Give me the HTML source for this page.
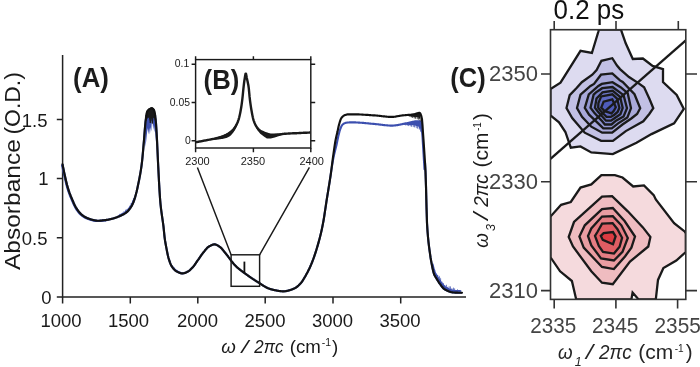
<!DOCTYPE html>
<html><head><meta charset="utf-8"><title>Figure</title>
<style>
html,body{margin:0;padding:0;background:#fff;}
svg{display:block;}
text{font-family:"Liberation Sans",sans-serif;}
.b{font-weight:bold;}
.i{font-style:italic;}
</style></head><body>
<svg width="700" height="367" viewBox="0 0 700 367">
<rect width="700" height="367" fill="#fff"/>

<!-- ============ Panel C contours ============ -->
<defs><clipPath id="cc"><rect x="550.5" y="29.7" width="135.29999999999995" height="269.7"/></clipPath></defs>
<g clip-path="url(#cc)">
<path d="M550.5,89.1 L560.5,82.7 L580.5,50.8 L591.9,53.0 L598.4,31.5 L598.8,29.7 L621.2,29.7 L621.4,31.0 L625.7,43.3 L632.8,59.0 L642.9,58.5 L652.6,65.9 L663.0,69.1 L663.0,82.0 L676.7,95.0 L683.8,108.9 L674.1,123.4 L651.5,134.1 L636.5,142.7 L612.8,154.1 L591.3,152.4 L580.5,146.4 L570.8,147.7 L565.4,132.0 L559.0,122.3 L550.5,115.4Z" fill="#dddbf0" stroke="#1a1a1a" stroke-width="2.3" stroke-linejoin="miter"/>
<path d="M566.5,108.0 L569.7,95.2 L576.6,88.0 L581.8,82.2 L592.3,74.7 L596.6,70.0 L601.4,60.8 L612.3,58.2 L617.0,65.5 L620.0,69.1 L629.0,77.0 L638.0,82.9 L644.1,87.2 L649.5,99.0 L653.3,108.2 L649.3,114.0 L643.3,121.3 L625.8,131.1 L612.9,140.9 L601.1,140.9 L584.7,132.7 L572.2,118.0Z" fill="#c2c0e4" stroke="#1a1a1a" stroke-width="2.3" stroke-linejoin="miter"/>
<path d="M577.0,108.0 L580.5,94.7 L590.5,86.0 L594.0,83.9 L601.0,74.7 L612.3,73.4 L620.0,80.4 L622.7,82.0 L634.5,94.2 L640.2,108.2 L637.1,114.0 L631.3,118.5 L622.5,124.5 L612.2,132.7 L602.2,132.7 L591.3,126.7 L582.0,116.9Z" fill="#a9a9da" stroke="#1a1a1a" stroke-width="2.3" stroke-linejoin="miter"/>
<path d="M584.8,107.8 L588.8,94.3 L598.4,86.0 L601.8,83.9 L612.5,82.2 L620.6,87.2 L627.7,93.2 L631.0,108.2 L627.4,117.5 L618.2,123.4 L611.8,128.4 L603.3,128.4 L600.0,125.1 L589.1,114.7Z" fill="#9296d2" stroke="#1a1a1a" stroke-width="2.3" stroke-linejoin="miter"/>
<path d="M590.5,107.8 L593.6,94.7 L596.0,92.4 L602.2,88.2 L612.5,87.0 L623.6,95.1 L627.0,108.2 L623.6,116.4 L616.0,120.7 L611.5,124.5 L604.9,124.5 L602.2,121.3 L594.5,113.1Z" fill="#7e86cc" stroke="#1a1a1a" stroke-width="2.3" stroke-linejoin="miter"/>
<path d="M594.9,107.8 L596.5,98.5 L602.5,92.4 L612.7,90.8 L620.1,96.8 L622.7,108.0 L620.4,114.2 L614.9,118.0 L611.0,120.7 L606.0,120.7 L597.8,111.5Z" fill="#6d77c6" stroke="#1a1a1a" stroke-width="2.3" stroke-linejoin="miter"/>
<path d="M598.2,107.6 L598.4,103.0 L601.2,96.4 L612.4,94.3 L617.1,98.6 L619.4,107.8 L617.6,112.0 L614.4,114.7 L610.8,116.9 L606.5,116.9 L601.1,111.5Z" fill="#5f6ac0" stroke="#1a1a1a" stroke-width="2.3" stroke-linejoin="miter"/>
<path d="M601.2,107.6 L603.6,101.7 L612.3,99.4 L615.8,107.3 L613.8,110.9 L611.5,113.4 L604.3,110.9Z" fill="#4f5cba" stroke="#1a1a1a" stroke-width="2.3" stroke-linejoin="miter"/>
<path d="M550.5,216.6 L561.1,204.8 L570.8,202.0 L580.5,187.6 L591.3,184.4 L601.4,175.1 L614.9,175.1 L622.5,177.5 L633.2,186.5 L644.0,185.4 L653.7,195.1 L655.8,199.4 L674.1,223.1 L684.9,231.7 L685.8,233.6 L685.8,252.0 L676.3,260.5 L663.4,268.0 L658.0,279.9 L655.8,299.4 L638.6,299.4 L632.6,292.6 L631.4,299.4 L576.2,299.4 L571.9,281.0 L560.1,271.3 L550.5,257.3Z" fill="#f5dadd" stroke="#1a1a1a" stroke-width="2.3" stroke-linejoin="miter"/>
<path d="M568.7,237.0 L574.0,222.0 L602.0,196.6 L612.1,196.2 L627.8,211.3 L642.9,227.4 L650.4,237.0 L648.3,246.5 L630.0,261.6 L612.8,284.2 L602.0,282.7 L591.3,271.3 L573.0,246.5Z" fill="#efbcc0" stroke="#1a1a1a" stroke-width="2.3" stroke-linejoin="miter"/>
<path d="M579.4,236.5 L584.8,225.3 L602.0,209.1 L612.8,208.0 L624.6,221.0 L635.0,236.5 L631.4,247.6 L625.0,256.5 L613.9,269.1 L602.0,267.0 L583.7,247.6Z" fill="#ea9da2" stroke="#1a1a1a" stroke-width="2.3" stroke-linejoin="miter"/>
<path d="M588.0,236.0 L591.3,228.5 L602.0,216.6 L612.8,216.2 L621.4,225.3 L627.8,238.0 L622.5,251.9 L613.9,260.5 L601.0,258.4 L591.3,245.4Z" fill="#e57d83" stroke="#1a1a1a" stroke-width="2.3" stroke-linejoin="miter"/>
<path d="M595.0,235.8 L597.7,231.5 L602.1,223.6 L612.6,223.1 L617.3,229.0 L622.1,237.8 L619.6,246.8 L614.0,253.6 L603.0,251.9 L598.8,245.9Z" fill="#e05d63" stroke="#1a1a1a" stroke-width="2.3" stroke-linejoin="miter"/>
<path d="M600.8,235.8 L603.6,233.2 L613.0,232.1 L615.6,236.4 L613.0,244.2 L602.8,239.9Z" fill="#dc3b41" stroke="#1a1a1a" stroke-width="2.3" stroke-linejoin="miter"/>

<path d="M550.5,158.9 L685.8,40.3" stroke="#1a1a1a" stroke-width="2.3" fill="none"/>
</g>
<g stroke="#333" stroke-width="1.6" fill="none">
<rect x="550.5" y="29.7" width="135.29999999999995" height="269.7"/>
<path d="M554.2,29.7 V21 M616,29.7 V21 M678.3,29.7 V21"/>
<path d="M554.2,299.4 V308.4 M615.9,299.4 V308.4 M677.6,299.4 V308.4"/>
<path d="M541,74 H550.5 M541,181.8 H550.5 M541,290.6 H550.5"/>
<path d="M685.8,74 H697 M685.8,181.8 H697 M685.8,290.6 H697"/>
</g>
<g fill="#444" font-size="22">
<text x="538" y="80.5" text-anchor="end" textLength="49" lengthAdjust="spacingAndGlyphs">2350</text>
<text x="538" y="189" text-anchor="end" textLength="49" lengthAdjust="spacingAndGlyphs">2330</text>
<text x="538" y="297.5" text-anchor="end" textLength="49" lengthAdjust="spacingAndGlyphs">2310</text>
<text x="530.3" y="333" textLength="46" lengthAdjust="spacingAndGlyphs">2335</text>
<text x="592" y="333" textLength="46.3" lengthAdjust="spacingAndGlyphs">2345</text>
<text x="654.5" y="333" textLength="46.3" lengthAdjust="spacingAndGlyphs">2355</text>
</g>
<text x="553.6" y="19.4" font-size="27.5" fill="#111" textLength="70.6" lengthAdjust="spacingAndGlyphs">0.2 ps</text>
<text x="450.3" y="87.2" font-size="28" class="b" fill="#1c1c1c" textLength="35.4" lengthAdjust="spacingAndGlyphs">(C)</text>
<g transform="translate(558.1,358.7)" font-size="20.6" fill="#262626">
<text x="0" y="0" class="i" textLength="14.6" lengthAdjust="spacingAndGlyphs">ω</text>
<text x="16.6" y="7.3" class="i" font-size="12.5">1</text>
<text x="27.9" y="0" class="i" textLength="7" lengthAdjust="spacingAndGlyphs">/</text>
<text x="40.9" y="0" class="i" textLength="32.6" lengthAdjust="spacingAndGlyphs">2πc</text>
<text x="80.2" y="0" textLength="35" lengthAdjust="spacingAndGlyphs">(cm</text>
<text x="116.6" y="-6.8" font-size="11.5" textLength="9" lengthAdjust="spacingAndGlyphs">-1</text>
<text x="127.6" y="0">)</text>
</g>
<g transform="translate(487.5,247.7) rotate(-90)" font-size="20.6" fill="#1a1a1a">
<text x="0" y="0" class="i" textLength="14.6" lengthAdjust="spacingAndGlyphs">ω</text>
<text x="16.6" y="7.3" class="i" font-size="12.5">3</text>
<text x="27.9" y="0" class="i" textLength="7" lengthAdjust="spacingAndGlyphs">/</text>
<text x="40.9" y="0" class="i" textLength="32.6" lengthAdjust="spacingAndGlyphs">2πc</text>
<text x="80.2" y="0" textLength="35" lengthAdjust="spacingAndGlyphs">(cm</text>
<text x="116.6" y="-6.8" font-size="11.5" textLength="9" lengthAdjust="spacingAndGlyphs">-1</text>
<text x="127.6" y="0">)</text>
</g>

<!-- ============ Panel A ============ -->
<g stroke="#222" stroke-width="1.5" fill="none">
<path d="M62.6,55 V297.7 M62,297 H466"/>
<path d="M56.8,119.5 H62.6 M56.8,178.5 H62.6 M56.8,237.7 H62.6 M56.8,297 H62.6"/>
<path d="M62.6,297 V303.6 M130.3,297 V303.6 M197.8,297 V303.6 M265.2,297 V303.6 M333,297 V303.6 M400.7,297 V303.6"/>
</g>
<g fill="#1a1a1a" font-size="18.5">
<text x="47.5" y="127" text-anchor="end">1.5</text>
<text x="48.5" y="185.3" text-anchor="end">1</text>
<text x="47.5" y="244.5" text-anchor="end">0.5</text>
<text x="51.5" y="304" text-anchor="end">0</text>
<text x="61" y="327" text-anchor="middle">1000</text>
<text x="128.5" y="327" text-anchor="middle">1500</text>
<text x="197.5" y="327" text-anchor="middle">2000</text>
<text x="265" y="327" text-anchor="middle">2500</text>
<text x="332.5" y="327" text-anchor="middle">3000</text>
<text x="400" y="327" text-anchor="middle">3500</text>
</g>
<g transform="translate(19.5,270) rotate(-90)" font-size="22.3" fill="#1a1a1a">
<text x="0" y="0" textLength="130.8" lengthAdjust="spacingAndGlyphs">Absorbance</text>
<text x="135.4" y="0" textLength="62.5" lengthAdjust="spacingAndGlyphs">(O.D.)</text>
</g>
<g font-size="18.7" fill="#1a1a1a">
<text x="221.2" y="352.5" class="i">ω</text>
<text x="241.4" y="352.5" class="i" textLength="6.8" lengthAdjust="spacingAndGlyphs">/</text>
<text x="254.3" y="352.5" class="i" textLength="29.1" lengthAdjust="spacingAndGlyphs">2πc</text>
<text x="289.7" y="352.5">(cm</text>
<text x="321.8" y="345.8" font-size="11" textLength="9.3" lengthAdjust="spacingAndGlyphs">-1</text>
<text x="332" y="352.5">)</text>
</g>
<text x="73.1" y="87.3" font-size="28" class="b" fill="#1c1c1c" textLength="35.8" lengthAdjust="spacingAndGlyphs">(A)</text>

<!-- blue curve -->
<path d="M145.3,115.0 L156.2,115.0 L156.2,146.0 L155.4,133.0 L154.6,131.0 L153.9,125.0 L153.2,130.0 L152.5,121.0 L151.8,121.0 L151.3,131.5 L150.6,127.0 L149.9,134.5 L149.1,128.0 L148.4,134.5 L147.6,128.0 L146.9,134.0 L146.2,141.0 L145.3,147.0Z" fill="#3c4faf"/>
<path d="M433.4,263.0 L434.1,266.4 L434.1,266.3 L434.8,269.3 L434.8,268.8 L435.5,271.1 L435.5,271.6 L436.2,273.1 L436.2,273.0 L436.9,274.1 L436.9,274.3 L437.6,275.4 L437.6,274.5 L438.3,275.6 L438.3,276.6 L439.0,277.7 L439.0,275.6 L439.7,276.7 L439.7,278.8 L440.4,279.9 L440.4,277.4 L441.1,278.4 L441.1,280.9 L441.8,281.9 L441.8,281.2 L442.5,282.1 L442.5,282.9 L443.2,283.8 L443.2,282.7 L443.9,283.6 L443.9,284.7 L444.6,285.4 L444.6,284.7 L445.3,285.3 L445.3,286.1 L446.0,286.6 L446.0,284.6 L446.7,285.1 L446.7,287.0 L447.4,287.4 L447.4,286.7 L448.1,287.1 L448.1,287.8 L448.8,288.1 L448.8,286.1 L449.5,286.4 L449.5,288.4 L450.2,288.7 L450.2,286.2 L450.9,286.5 L450.9,288.9 L451.6,289.2 L451.6,288.0 L452.3,288.2 L452.3,289.4 L453.0,289.6 L453.0,287.5 L453.7,287.7 L453.7,289.7 L454.4,289.8 L454.4,288.3 L455.1,288.4 L455.1,289.9 L455.8,289.9 L455.8,289.9 L456.5,289.9 L456.5,289.9 L457.2,290.0 L457.2,289.2 L457.9,289.2 L457.9,290.0 L458.6,290.0 L458.6,290.1 L459.3,290.1 L459.3,290.0 L460.0,290.0 L460.0,290.3 L460.7,290.3 L460.7,290.0 L461.4,290.0 L460.4,292.7 L459.9,292.7 L459.4,292.7 L458.9,292.7 L458.4,292.7 L457.9,292.7 L457.4,292.6 L456.9,292.6 L456.4,292.6 L455.9,292.6 L455.4,292.6 L454.9,292.6 L454.4,292.5 L453.9,292.5 L453.4,292.5 L452.9,292.5 L452.4,292.4 L451.9,292.3 L451.4,292.2 L450.9,292.0 L450.4,291.9 L449.9,291.7 L449.4,291.5 L448.9,291.3 L448.4,291.2 L447.9,291.0 L447.4,290.8 L446.9,290.5 L446.4,290.3 L445.9,290.0 L445.4,289.7 L444.9,289.4 L444.4,289.1 L443.9,288.7 L443.4,288.3 L442.9,287.8 L442.4,287.2 L441.9,286.6 L441.4,285.9 L440.9,285.2 L440.4,284.5 L439.9,283.9 L439.4,283.2 L438.9,282.4 L438.4,281.6 L437.9,280.8 L437.4,280.0 L436.9,279.2 L436.4,278.4 L435.9,277.6 L435.4,276.8 L434.9,276.0 L434.4,275.0 L433.9,273.7 L433.4,271.9 L432.9,269.8 L432.4,267.5Z" fill="#3c4faf"/>
<path d="M118.0,215.4 L118.7,215.1 L118.7,214.9 L119.4,214.5 L119.4,214.1 L120.1,213.8 L120.1,214.2 L120.8,213.9 L120.8,213.4 L121.5,213.1 L121.5,213.6 L122.2,213.2 L122.2,212.8 L122.9,212.4 L122.9,212.8 L123.6,212.4 L123.6,211.3 L124.3,210.9 L124.3,211.9 L125.0,211.4 L125.0,209.9 L125.7,209.4 L125.7,210.9 L126.4,210.2 L126.4,209.5 L127.1,208.8 L127.1,209.5 L127.8,208.7 L127.8,208.2 L128.5,207.3 L128.5,207.9 L129.2,206.9 L129.2,206.3 L129.9,205.3 L129.9,205.9 L130.6,204.7 L130.6,203.8 L131.3,202.4 L131.3,203.4 L132.0,201.9 L132.0,201.4 L132.7,199.7 L132.7,200.2 L133.4,198.2 L135.4,196.2 L134.9,197.9 L134.4,199.5 L133.9,201.0 L133.4,202.2 L132.9,203.4 L132.4,204.4 L131.9,205.4 L131.4,206.3 L130.9,207.2 L130.4,207.9 L129.9,208.6 L129.4,209.3 L128.9,209.9 L128.4,210.5 L127.9,211.0 L127.4,211.5 L126.9,212.0 L126.4,212.4 L125.9,212.8 L125.4,213.1 L124.9,213.5 L124.4,213.8 L123.9,214.1 L123.4,214.4 L122.9,214.6 L122.4,214.9 L121.9,215.1 L121.4,215.4 L120.9,215.6 L120.4,215.8 L119.9,216.0 L119.4,216.3Z" fill="#3c4faf"/>
<path d="M167.0,250.1 L167.7,253.5 L167.7,253.3 L168.4,256.2 L168.4,256.0 L169.1,258.3 L169.1,258.5 L169.8,260.6 L169.8,260.1 L170.5,261.9 L170.5,262.5 L171.2,263.9 L171.2,263.4 L171.9,264.6 L171.9,265.1 L172.6,266.1 L172.6,265.7 L173.3,266.6 L173.3,267.1 L174.0,267.9 L174.0,267.0 L174.7,267.7 L174.7,268.6 L175.4,269.2 L175.4,268.5 L176.1,268.9 L176.1,269.6 L176.8,270.0 L176.8,269.7 L177.5,270.1 L177.5,270.4 L178.2,270.8 L178.2,270.8 L178.9,271.1 L178.9,271.1 L179.6,271.4 L179.6,271.6 L180.3,271.9 L180.3,271.6 L181.0,271.8 L181.4,273.3 L180.9,273.2 L180.4,273.1 L179.9,273.0 L179.4,272.8 L178.9,272.6 L178.4,272.3 L177.9,272.1 L177.4,271.8 L176.9,271.5 L176.4,271.2 L175.9,270.9 L175.4,270.6 L174.9,270.2 L174.4,269.7 L173.9,269.2 L173.4,268.6 L172.9,268.0 L172.4,267.3 L171.9,266.5 L171.4,265.7 L170.9,264.8 L170.4,263.7 L169.9,262.4 L169.4,260.9 L168.9,259.3 L168.4,257.6 L167.9,255.6 L167.4,253.3Z" fill="#3c4faf"/>
<path d="M61.5,165.1 L62.2,168.6 L62.2,168.3 L62.9,171.7 L62.9,171.6 L63.6,174.7 L63.6,174.8 L64.3,178.0 L64.3,177.6 L65.0,180.6 L65.0,181.0 L65.7,183.8 L65.7,183.4 L66.4,185.9 L66.4,186.4 L67.1,188.6 L67.1,188.2 L67.8,190.3 L67.8,190.7 L68.5,192.6 L68.5,192.7 L69.2,194.5 L69.2,194.4 L69.9,196.1 L71.4,197.6 L70.9,196.4 L70.4,195.1 L69.9,193.8 L69.4,192.5 L68.9,191.1 L68.4,189.6 L67.9,188.0 L67.4,186.3 L66.9,184.4 L66.4,182.4 L65.9,180.2 L65.4,178.0 L64.9,175.8 L64.4,173.5 L63.9,171.2 L63.4,168.8 L62.9,166.3Z" fill="#3c4faf"/>
<path d="M400.0,124.6 L400.5,124.5 L401.0,124.4 L401.5,124.3 L402.0,124.2 L402.5,124.1 L403.0,123.9 L403.5,123.8 L404.0,123.7 L404.5,123.6 L405.0,123.5 L405.5,123.4 L406.0,123.3 L406.5,123.3 L407.0,123.2 L407.5,123.1 L408.0,123.0 L408.5,122.9 L409.0,122.7 L409.5,122.6 L410.0,122.5 L410.5,122.4 L411.0,122.3 L411.5,122.1 L412.0,122.0 L412.5,121.9 L413.0,121.8 L413.5,121.7 L414.0,121.6 L414.5,121.5 L415.0,121.4 L415.5,121.3 L416.0,121.3 L416.5,121.2 L417.0,121.2 L417.5,121.2 L418.0,121.2 L418.5,121.2 L419.0,121.3 L419.5,121.4 L420.0,121.4 L420.5,121.6 L421.0,122.7 L421.0,132.2 L420.3,131.2 L420.2,128.4 L419.6,128.6 L419.5,130.0 L418.8,129.2 L418.7,126.6 L418.1,126.7 L418.0,129.1 L417.3,128.3 L417.2,125.9 L416.6,126.1 L416.5,128.4 L415.8,127.6 L415.7,125.5 L415.1,125.7 L415.0,127.8 L414.3,127.1 L414.2,125.2 L413.6,125.3 L413.5,127.3 L412.8,126.7 L412.7,125.0 L412.1,125.1 L412.0,126.9 L411.3,126.4 L411.2,124.9 L410.6,125.0 L410.5,126.5 L409.8,126.1 L409.7,124.9 L409.1,124.9 L409.0,126.2 L408.3,125.8 L408.2,124.8 L407.6,124.9 L407.5,125.8 L406.8,125.6 L406.7,124.7 L406.1,124.8 L406.0,125.5 L405.3,125.2 L405.2,124.6 L404.6,124.7 L404.5,125.1 L403.8,125.0 L403.7,124.5 L403.1,124.6 L403.0,124.9 L402.3,124.8 L402.2,124.5 L401.6,124.5 L401.5,124.7 L400.8,124.6 L400.7,124.5 L400.1,124.5 L400.0,124.6 L399.3,124.6 L399.2,124.6 L398.6,124.6Z" fill="#3c4faf"/>
<path d="M62.5,164.3 L63.0,166.8 L63.5,169.3 L64.0,171.7 L64.5,174.0 L65.0,176.2 L65.5,178.5 L66.0,180.7 L66.5,182.8 L67.0,184.8 L67.5,186.6 L68.0,188.3 L68.5,189.9 L69.0,191.4 L69.5,192.8 L70.0,194.1 L70.5,195.4 L71.0,196.6 L71.5,197.8 L72.0,199.0 L72.5,200.2 L73.0,201.3 L73.5,202.5 L74.0,203.6 L74.5,204.7 L75.0,205.7 L75.5,206.7 L76.0,207.6 L76.5,208.4 L77.0,209.2 L77.5,209.9 L78.0,210.6 L78.5,211.3 L79.0,211.9 L79.5,212.5 L80.0,213.1 L80.5,213.6 L81.0,214.1 L81.5,214.5 L82.0,214.9 L82.5,215.3 L83.0,215.7 L83.5,216.0 L84.0,216.4 L84.5,216.7 L85.0,217.0 L85.5,217.3 L86.0,217.5 L86.5,217.8 L87.0,218.0 L87.5,218.2 L88.0,218.4 L88.5,218.5 L89.0,218.7 L89.5,218.9 L90.0,219.1 L90.5,219.2 L91.0,219.4 L91.5,219.6 L92.0,219.7 L92.5,219.8 L93.0,220.0 L93.5,220.1 L94.0,220.2 L94.5,220.3 L95.0,220.4 L95.5,220.5 L96.0,220.6 L96.5,220.6 L97.0,220.7 L97.5,220.7 L98.0,220.7 L98.5,220.7 L99.0,220.7 L99.5,220.7 L100.0,220.6 L100.5,220.6 L101.0,220.6 L101.5,220.5 L102.0,220.5 L102.5,220.4 L103.0,220.4 L103.5,220.3 L104.0,220.2 L104.5,220.2 L105.0,220.1 L105.5,220.1 L106.0,220.0 L106.5,219.9 L107.0,219.9 L107.5,219.8 L108.0,219.7 L108.5,219.6 L109.0,219.5 L109.5,219.4 L110.0,219.3 L110.5,219.2 L111.0,219.0 L111.5,218.9 L112.0,218.8 L112.5,218.7 L113.0,218.5 L113.5,218.4 L114.0,218.2 L114.5,218.1 L115.0,217.9 L115.5,217.8 L116.0,217.6 L116.5,217.4 L117.0,217.2 L117.5,217.0 L118.0,216.8 L118.5,216.6 L119.0,216.4 L119.5,216.2 L120.0,216.0 L120.5,215.8 L121.0,215.6 L121.5,215.3 L122.0,215.1 L122.5,214.8 L123.0,214.6 L123.5,214.3 L124.0,214.0 L124.5,213.7 L125.0,213.4 L125.5,213.1 L126.0,212.7 L126.5,212.3 L127.0,211.9 L127.5,211.4 L128.0,210.9 L128.5,210.4 L129.0,209.8 L129.5,209.2 L130.0,208.5 L130.5,207.8 L131.0,207.0 L131.5,206.2 L132.0,205.2 L132.5,204.2 L133.0,203.2 L133.5,202.0 L134.0,200.7 L134.5,199.2 L135.0,197.6 L135.5,195.8 L136.0,194.0 L136.5,192.1 L137.0,189.9 L137.5,187.7 L138.0,185.3 L138.5,182.9 L139.0,180.5 L139.5,177.9 L140.0,175.2 L140.5,172.4 L141.0,169.3 L141.5,165.8 L142.0,161.8 L142.5,157.1 L143.0,151.7 L143.5,145.9 L144.0,140.0 L144.5,133.7 L145.0,127.3 L145.5,122.0 L146.0,119.0 L146.5,119.0 L147.0,119.0 L147.5,119.0 L148.0,119.0 L148.5,119.0 L149.0,119.0 L149.5,119.0 L150.0,119.0 L150.5,119.0 L151.0,119.0 L151.5,119.0 L152.0,119.0 L152.5,119.0 L153.0,119.0 L153.5,119.0 L154.0,119.0 L154.5,119.0 L155.0,119.0 L155.5,119.0 L156.0,123.4 L156.5,131.2 L157.0,140.0 L157.5,151.0 L158.0,162.0 L158.5,171.9 L159.0,181.6 L159.5,190.4 L160.0,198.1 L160.5,204.0 L161.0,208.6 L161.5,212.4 L162.0,216.0 L162.5,219.4 L163.0,222.8 L163.5,226.7 L164.0,231.6 L164.5,236.6 L165.0,240.4 L165.5,243.3 L166.0,246.0 L166.5,248.6 L167.0,251.3 L167.5,253.8 L168.0,256.1 L168.5,258.0 L169.0,259.7 L169.5,261.2 L170.0,262.6 L170.5,263.9 L171.0,265.0 L171.5,265.9 L172.0,266.7 L172.5,267.4 L173.0,268.1 L173.5,268.7 L174.0,269.3 L174.5,269.8 L175.0,270.3 L175.5,270.7 L176.0,271.0 L176.5,271.3 L177.0,271.6 L177.5,271.9 L178.0,272.1 L178.5,272.4 L179.0,272.6 L179.5,272.8 L180.0,273.0 L180.5,273.1 L181.0,273.3 L181.5,273.3 L182.0,273.4 L182.5,273.4 L183.0,273.4 L183.5,273.3 L184.0,273.2 L184.5,273.0 L185.0,272.9 L185.5,272.7 L186.0,272.5 L186.5,272.2 L187.0,272.0 L187.5,271.7 L188.0,271.5 L188.5,271.2 L189.0,270.9 L189.5,270.5 L190.0,270.1 L190.5,269.6 L191.0,269.1 L191.5,268.6 L192.0,268.1 L192.5,267.5 L193.0,267.0 L193.5,266.4 L194.0,265.8 L194.5,265.1 L195.0,264.4 L195.5,263.7 L196.0,262.9 L196.5,262.2 L197.0,261.4 L197.5,260.7 L198.0,260.0 L198.5,259.3 L199.0,258.6 L199.5,257.8 L200.0,257.1 L200.5,256.4 L201.0,255.7 L201.5,254.9 L202.0,254.2 L202.5,253.6 L203.0,252.9 L203.5,252.3 L204.0,251.7 L204.5,251.1 L205.0,250.4 L205.5,249.8 L206.0,249.2 L206.5,248.7 L207.0,248.1 L207.5,247.6 L208.0,247.2 L208.5,246.8 L209.0,246.5 L209.5,246.2 L210.0,245.9 L210.5,245.7 L211.0,245.4 L211.5,245.2 L212.0,245.0 L212.5,244.8 L213.0,244.6 L213.5,244.5 L214.0,244.4 L214.5,244.4 L215.0,244.4 L215.5,244.5 L216.0,244.7 L216.5,244.8 L217.0,245.1 L217.5,245.4 L218.0,245.7 L218.5,246.0 L219.0,246.3 L219.5,246.7 L220.0,247.0 L220.5,247.4 L221.0,247.8 L221.5,248.3 L222.0,248.9 L222.5,249.5 L223.0,250.1 L223.5,250.7 L224.0,251.4 L224.5,252.0 L225.0,252.6 L225.5,253.2 L226.0,253.8 L226.5,254.5 L227.0,255.1 L227.5,255.7 L228.0,256.4 L228.5,257.1 L229.0,257.7 L229.5,258.4 L230.0,259.1 L230.5,259.7 L231.0,260.4 L231.5,261.1 L232.0,261.7 L232.5,262.3 L233.0,263.0 L233.5,263.6 L234.0,264.2 L234.5,264.7 L235.0,265.3 L235.5,265.8 L236.0,266.3 L236.5,266.8 L237.0,267.2 L237.5,267.7 L238.0,268.1 L238.5,268.5 L239.0,268.9 L239.5,269.3 L240.0,269.7 L240.5,270.1 L241.0,270.5 L241.5,270.9 L242.0,271.2 L242.5,271.6 L243.0,272.0 L243.5,272.3 L244.0,272.7 L244.5,273.1 L245.0,273.4 L245.5,273.8 L246.0,274.2 L246.5,274.5 L247.0,274.9 L247.5,275.2 L248.0,275.6 L248.5,276.0 L249.0,276.3 L249.5,276.7 L250.0,277.0 L250.5,277.4 L251.0,277.7 L251.5,278.0 L252.0,278.4 L252.5,278.7 L253.0,279.1 L253.5,279.4 L254.0,279.7 L254.5,280.0 L255.0,280.4 L255.5,280.7 L256.0,281.0 L256.5,281.3 L257.0,281.6 L257.5,281.9 L258.0,282.2 L258.5,282.6 L259.0,282.9 L259.5,283.2 L260.0,283.5 L260.5,283.8 L261.0,284.2 L261.5,284.5 L262.0,284.8 L262.5,285.1 L263.0,285.5 L263.5,285.8 L264.0,286.1 L264.5,286.4 L265.0,286.7 L265.5,287.0 L266.0,287.2 L266.5,287.5 L267.0,287.8 L267.5,288.0 L268.0,288.2 L268.5,288.4 L269.0,288.6 L269.5,288.8 L270.0,289.0 L270.5,289.1 L271.0,289.2 L271.5,289.4 L272.0,289.5 L272.5,289.6 L273.0,289.7 L273.5,289.9 L274.0,290.0 L274.5,290.1 L275.0,290.2 L275.5,290.3 L276.0,290.4 L276.5,290.5 L277.0,290.6 L277.5,290.7 L278.0,290.8 L278.5,290.9 L279.0,291.0 L279.5,291.0 L280.0,291.1 L280.5,291.1 L281.0,291.2 L281.5,291.2 L282.0,291.3 L282.5,291.3 L283.0,291.3 L283.5,291.3 L284.0,291.3 L284.5,291.3 L285.0,291.2 L285.5,291.2 L286.0,291.1 L286.5,291.0 L287.0,290.9 L287.5,290.8 L288.0,290.7 L288.5,290.5 L289.0,290.4 L289.5,290.2 L290.0,290.1 L290.5,289.9 L291.0,289.7 L291.5,289.6 L292.0,289.4 L292.5,289.2 L293.0,289.0 L293.5,288.8 L294.0,288.6 L294.5,288.4 L295.0,288.1 L295.5,287.8 L296.0,287.5 L296.5,287.2 L297.0,286.8 L297.5,286.4 L298.0,285.9 L298.5,285.5 L299.0,285.0 L299.5,284.5 L300.0,284.0 L300.5,283.4 L301.0,282.9 L301.5,282.3 L302.0,281.6 L302.5,280.9 L303.0,280.1 L303.5,279.3 L304.0,278.5 L304.5,277.6 L305.0,276.8 L305.5,275.9 L306.0,275.0 L306.5,274.1 L307.0,273.2 L307.5,272.3 L308.0,271.3 L308.5,270.3 L309.0,269.3 L309.5,268.2 L310.0,267.2 L310.5,266.0 L311.0,264.9 L311.5,263.7 L312.0,262.5 L312.5,261.2 L313.0,259.9 L313.5,258.5 L314.0,257.1 L314.5,255.7 L315.0,254.2 L315.5,252.6 L316.0,251.1 L316.5,249.5 L317.0,247.8 L317.5,246.1 L318.0,244.4 L318.5,242.6 L319.0,240.8 L319.5,238.9 L320.0,237.0 L320.5,235.0 L321.0,232.9 L321.5,230.7 L322.0,228.4 L322.5,226.0 L323.0,223.4 L323.5,220.7 L324.0,217.7 L324.5,214.5 L325.0,211.2 L325.5,207.9 L326.0,204.5 L326.5,201.2 L327.0,198.0 L327.5,194.9 L328.0,191.8 L328.5,188.8 L329.0,185.7 L329.5,182.6 L330.0,179.4 L330.5,176.1 L331.0,172.6 L331.5,169.2 L332.0,166.0 L332.5,163.0 L333.0,160.1 L333.5,157.5 L334.0,155.1 L334.5,153.0 L335.0,151.0 L335.5,149.1 L336.0,147.1 L336.5,145.0 L337.0,142.6 L337.5,140.1 L338.0,137.7 L338.5,135.4 L339.0,133.4 L339.5,131.5 L340.0,129.9 L340.5,128.5 L341.0,127.2 L341.5,126.1 L342.0,125.3 L342.5,124.7 L343.0,124.3 L343.5,123.9 L344.0,123.5 L344.5,123.3 L345.0,123.1 L345.5,122.9 L346.0,122.8 L346.5,122.7 L347.0,122.6 L347.5,122.5 L348.0,122.5 L348.5,122.5 L349.0,122.5 L349.5,122.4 L350.0,122.4 L350.5,122.4 L351.0,122.4 L351.5,122.4 L352.0,122.4 L352.5,122.4 L353.0,122.4 L353.5,122.4 L354.0,122.4 L354.5,122.4 L355.0,122.4 L355.5,122.4 L356.0,122.5 L356.5,122.5 L357.0,122.5 L357.5,122.5 L358.0,122.5 L358.5,122.6 L359.0,122.6 L359.5,122.6 L360.0,122.7 L360.5,122.7 L361.0,122.7 L361.5,122.8 L362.0,122.8 L362.5,122.9 L363.0,122.9 L363.5,122.9 L364.0,123.0 L364.5,123.0 L365.0,123.1 L365.5,123.1 L366.0,123.2 L366.5,123.2 L367.0,123.3 L367.5,123.3 L368.0,123.4 L368.5,123.4 L369.0,123.5 L369.5,123.5 L370.0,123.6 L370.5,123.6 L371.0,123.7 L371.5,123.7 L372.0,123.8 L372.5,123.8 L373.0,123.9 L373.5,123.9 L374.0,123.9 L374.5,124.0 L375.0,124.0 L375.5,124.1 L376.0,124.1 L376.5,124.2 L377.0,124.2 L377.5,124.3 L378.0,124.3 L378.5,124.4 L379.0,124.5 L379.5,124.5 L380.0,124.6 L380.5,124.6 L381.0,124.7 L381.5,124.8 L382.0,124.8 L382.5,124.9 L383.0,125.0 L383.5,125.0 L384.0,125.1 L384.5,125.1 L385.0,125.2 L385.5,125.2 L386.0,125.3 L386.5,125.3 L387.0,125.4 L387.5,125.4 L388.0,125.5 L388.5,125.5 L389.0,125.5 L389.5,125.5 L390.0,125.6 L390.5,125.6 L391.0,125.6 L391.5,125.6 L392.0,125.6 L392.5,125.6 L393.0,125.6 L393.5,125.5 L394.0,125.5 L394.5,125.5 L395.0,125.4 L395.5,125.4 L396.0,125.3 L396.5,125.2 L397.0,125.1 L397.5,125.1 L398.0,125.0 L398.5,124.9 L399.0,124.8 L399.5,124.7 L400.0,124.6 L400.5,124.5 L401.0,124.4 L401.5,124.3 L402.0,124.2 L402.5,124.1 L403.0,123.9 L403.5,123.8 L404.0,123.7 L404.5,123.6 L405.0,123.5 L405.5,123.4 L406.0,123.3 L406.5,123.3 L407.0,123.2 L407.5,123.1 L408.0,123.0 L408.5,122.9 L409.0,122.7 L409.5,122.6 L410.0,122.5 L410.5,122.4 L411.0,122.3 L411.5,122.1 L412.0,122.0 L412.5,121.9 L413.0,121.8 L413.5,121.7 L414.0,121.6 L414.5,121.5 L415.0,121.4 L415.5,121.3 L416.0,121.3 L416.5,121.2 L417.0,121.2 L417.5,121.2 L418.0,121.2 L418.5,121.2 L419.0,121.3 L419.5,121.4 L420.0,121.4 L420.5,121.6 L421.0,122.7 L421.5,126.2 L422.0,131.0 L422.5,136.8 L423.0,145.0 L423.5,153.1 L424.0,161.1 L424.5,169.1 L425.0,162.5 L425.5,171.8 L426.0,186.5 L426.5,206.8 L427.0,223.1 L427.5,231.0 L428.0,237.1 L428.5,242.1 L429.0,246.3 L429.5,250.1 L430.0,253.7 L430.5,257.2 L431.0,260.2 L431.5,262.9 L432.0,265.5 L432.5,268.0 L433.0,270.3 L433.5,272.3 L434.0,274.0 L434.5,275.2 L435.0,276.1 L435.5,277.0 L436.0,277.7 L436.5,278.5 L437.0,279.4 L437.5,280.2 L438.0,281.0 L438.5,281.8 L439.0,282.6 L439.5,283.3 L440.0,284.0 L440.5,284.7 L441.0,285.4 L441.5,286.1 L442.0,286.7 L442.5,287.3 L443.0,287.9 L443.5,288.4 L444.0,288.8 L444.5,289.1 L445.0,289.5 L445.5,289.8 L446.0,290.1 L446.5,290.3 L447.0,290.6 L447.5,290.8 L448.0,291.0 L448.5,291.2 L449.0,291.4 L449.5,291.6 L450.0,291.7 L450.5,291.9 L451.0,292.1 L451.5,292.2 L452.0,292.3 L452.5,292.4 L453.0,292.5 L453.5,292.5 L454.0,292.5 L454.5,292.5 L455.0,292.6 L455.5,292.6 L456.0,292.6 L456.5,292.6 L457.0,292.6 L457.5,292.6 L458.0,292.7 L458.5,292.7 L459.0,292.7 L459.5,292.7 L460.0,292.7 L460.5,292.7 L461.0,292.7 L461.5,292.7 L462.0,292.7" fill="none" stroke="#3c4faf" stroke-width="2.1" stroke-linejoin="round"/>
<path d="M62.0,164.7 L62.5,167.2 L63.0,169.7 L63.5,172.1 L64.0,174.4 L64.5,176.6 L65.0,178.9 L65.5,181.1 L66.0,183.2 L66.5,185.2 L67.0,187.0 L67.5,188.7 L68.0,190.3 L68.5,191.8 L69.0,193.2 L69.5,194.5 L70.0,195.8 L70.5,197.0 L71.0,198.2 L71.5,199.4 L72.0,200.6 L72.5,201.7 L73.0,202.9 L73.5,204.0 L74.0,205.1 L74.5,206.1 L75.0,207.1 L75.5,208.0 L76.0,208.8 L76.5,209.6 L77.0,210.3 L77.5,211.0 L78.0,211.7 L78.5,212.3 L79.0,212.9 L79.5,213.5 L80.0,214.0 L80.5,214.5 L81.0,214.9 L81.5,215.3 L82.0,215.7 L82.5,216.1 L83.0,216.4 L83.5,216.8 L84.0,217.1 L84.5,217.4 L85.0,217.7 L85.5,217.9 L86.0,218.2 L86.5,218.4 L87.0,218.6 L87.5,218.8 L88.0,218.9 L88.5,219.1 L89.0,219.3 L89.5,219.5 L90.0,219.6 L90.5,219.8 L91.0,220.0 L91.5,220.1 L92.0,220.2 L92.5,220.4 L93.0,220.5 L93.5,220.6 L94.0,220.7 L94.5,220.8 L95.0,220.9 L95.5,221.0 L96.0,221.0 L96.5,221.1 L97.0,221.1 L97.5,221.1 L98.0,221.1 L98.5,221.1 L99.0,221.1 L99.5,221.0 L100.0,221.0 L100.5,221.0 L101.0,220.9 L101.5,220.9 L102.0,220.8 L102.5,220.8 L103.0,220.7 L103.5,220.6 L104.0,220.6 L104.5,220.5 L105.0,220.5 L105.5,220.4 L106.0,220.3 L106.5,220.3 L107.0,220.2" fill="none" stroke="#3c4faf" stroke-width="2" stroke-linejoin="round"/>
<!-- black curve -->
<path d="M145.6,121.0 L146.5,113.0 L147.5,110.0 L149.0,108.8 L151.8,107.6 L153.5,108.5 L154.6,112.0 L155.5,121.0 L154.8,118.0 L153.8,117.0 L152.9,118.0 L152.3,123.5 L151.7,118.0 L150.9,118.0 L150.3,123.0 L149.6,118.0 L148.5,117.3 L147.0,118.0 L146.2,120.0Z" fill="#1a1a1a" stroke="#1a1a1a" stroke-width="1"/>
<path d="M405.0,115.2 L405.5,115.1 L406.0,115.1 L406.5,115.0 L407.0,115.0 L407.5,115.0 L408.0,114.9 L408.5,114.9 L409.0,114.8 L409.5,114.8 L410.0,114.8 L410.5,114.7 L411.0,114.7 L411.5,114.6 L412.0,114.6 L412.5,114.5 L413.0,114.4 L413.5,114.4 L414.0,114.3 L414.5,114.2 L415.0,114.0 L415.5,113.9 L416.0,113.7 L416.5,113.5 L417.0,113.4 L417.5,113.2 L418.0,113.1 L418.5,113.0 L419.0,112.9 L419.5,112.9 L420.0,113.0 L420.5,113.8 L420.5,121.8 L419.8,121.0 L419.7,118.6 L419.1,118.7 L419.0,120.0 L418.3,119.3 L418.2,117.2 L417.6,117.3 L417.5,119.4 L416.8,118.8 L416.7,116.9 L416.1,117.1 L416.0,119.0 L415.3,118.5 L415.2,116.9 L414.6,117.0 L414.5,118.6 L413.8,118.2 L413.7,116.8 L413.1,116.9 L413.0,118.1 L412.3,117.7 L412.2,116.6 L411.6,116.7 L411.5,117.4 L410.8,117.2 L410.7,116.3 L410.1,116.4 L410.0,116.8 L409.3,116.6 L409.2,116.0 L408.6,116.0 L408.5,116.2 L407.8,116.1 L407.7,115.7 L407.1,115.7 L407.0,115.7 L406.3,115.6 L406.2,115.4 L405.6,115.4 L405.5,115.2 L404.8,115.2 L404.7,115.2 L404.1,115.2Z" fill="#1a1a1a"/>
<path d="M62.5,164.3 L63.0,166.8 L63.5,169.3 L64.0,171.7 L64.5,174.0 L65.0,176.2 L65.5,178.5 L66.0,180.7 L66.5,182.8 L67.0,184.8 L67.5,186.6 L68.0,188.3 L68.5,189.9 L69.0,191.4 L69.5,192.8 L70.0,194.1 L70.5,195.4 L71.0,196.6 L71.5,197.8 L72.0,199.0 L72.5,200.2 L73.0,201.3 L73.5,202.5 L74.0,203.6 L74.5,204.7 L75.0,205.7 L75.5,206.7 L76.0,207.6 L76.5,208.4 L77.0,209.2 L77.5,209.9 L78.0,210.6 L78.5,211.3 L79.0,211.9 L79.5,212.5 L80.0,213.1 L80.5,213.6 L81.0,214.1 L81.5,214.5 L82.0,214.9 L82.5,215.3 L83.0,215.7 L83.5,216.0 L84.0,216.4 L84.5,216.7 L85.0,217.0 L85.5,217.3 L86.0,217.5 L86.5,217.8 L87.0,218.0 L87.5,218.2 L88.0,218.4 L88.5,218.5 L89.0,218.7 L89.5,218.9 L90.0,219.1 L90.5,219.2 L91.0,219.4 L91.5,219.6 L92.0,219.7 L92.5,219.8 L93.0,220.0 L93.5,220.1 L94.0,220.2 L94.5,220.3 L95.0,220.4 L95.5,220.5 L96.0,220.6 L96.5,220.6 L97.0,220.7 L97.5,220.7 L98.0,220.7 L98.5,220.7 L99.0,220.7 L99.5,220.7 L100.0,220.6 L100.5,220.6 L101.0,220.6 L101.5,220.5 L102.0,220.5 L102.5,220.4 L103.0,220.4 L103.5,220.3 L104.0,220.2 L104.5,220.2 L105.0,220.1 L105.5,220.1 L106.0,220.0 L106.5,219.9 L107.0,219.9 L107.5,219.8 L108.0,219.7 L108.5,219.6 L109.0,219.5 L109.5,219.4 L110.0,219.3 L110.5,219.2 L111.0,219.0 L111.5,218.9 L112.0,218.8 L112.5,218.7 L113.0,218.5 L113.5,218.4 L114.0,218.2 L114.5,218.1 L115.0,217.9 L115.5,217.8 L116.0,217.6 L116.5,217.4 L117.0,217.2 L117.5,217.0 L118.0,216.8 L118.5,216.6 L119.0,216.4 L119.5,216.2 L120.0,216.0 L120.5,215.8 L121.0,215.6 L121.5,215.3 L122.0,215.1 L122.5,214.8 L123.0,214.6 L123.5,214.3 L124.0,214.0 L124.5,213.7 L125.0,213.4 L125.5,213.1 L126.0,212.7 L126.5,212.3 L127.0,211.9 L127.5,211.4 L128.0,210.9 L128.5,210.4 L129.0,209.8 L129.5,209.2 L130.0,208.5 L130.5,207.8 L131.0,207.0 L131.5,206.2 L132.0,205.2 L132.5,204.2 L133.0,203.2 L133.5,202.0 L134.0,200.7 L134.5,199.2 L135.0,197.6 L135.5,195.8 L136.0,194.0 L136.5,192.1 L137.0,189.9 L137.5,187.7 L138.0,185.3 L138.5,182.9 L139.0,180.5 L139.5,177.9 L140.0,175.2 L140.5,172.4 L141.0,169.3 L141.5,165.8 L142.0,161.8 L142.5,157.1 L143.0,151.7 L143.5,145.9 L144.0,140.0 L144.5,133.7 L145.0,127.3 L145.5,122.0 L146.0,117.7 L146.5,114.1 L147.0,112.0 L147.5,111.1 L148.0,110.4 L148.5,109.9 L149.0,109.5 L149.5,109.2 L150.0,108.9 L150.5,108.6 L151.0,108.4 L151.5,108.3 L152.0,108.3 L152.5,108.5 L153.0,108.8 L153.5,109.4 L154.0,110.0 L154.5,111.5 L155.0,114.3 L155.5,118.0 L156.0,123.4 L156.5,131.2 L157.0,140.0 L157.5,151.0 L158.0,162.0 L158.5,171.9 L159.0,181.6 L159.5,190.4 L160.0,198.1 L160.5,204.0 L161.0,208.6 L161.5,212.4 L162.0,216.0 L162.5,219.4 L163.0,222.8 L163.5,226.7 L164.0,231.6 L164.5,236.6 L165.0,240.4 L165.5,243.3 L166.0,246.0 L166.5,248.6 L167.0,251.3 L167.5,253.8 L168.0,256.1 L168.5,258.0 L169.0,259.7 L169.5,261.2 L170.0,262.6 L170.5,263.9 L171.0,265.0 L171.5,265.9 L172.0,266.7 L172.5,267.4 L173.0,268.1 L173.5,268.7 L174.0,269.3 L174.5,269.8 L175.0,270.3 L175.5,270.7 L176.0,271.0 L176.5,271.3 L177.0,271.6 L177.5,271.9 L178.0,272.1 L178.5,272.4 L179.0,272.6 L179.5,272.8 L180.0,273.0 L180.5,273.1 L181.0,273.3 L181.5,273.3 L182.0,273.4 L182.5,273.4 L183.0,273.4 L183.5,273.3 L184.0,273.2 L184.5,273.0 L185.0,272.9 L185.5,272.7 L186.0,272.5 L186.5,272.2 L187.0,272.0 L187.5,271.7 L188.0,271.5 L188.5,271.2 L189.0,270.9 L189.5,270.5 L190.0,270.1 L190.5,269.6 L191.0,269.1 L191.5,268.6 L192.0,268.1 L192.5,267.5 L193.0,267.0 L193.5,266.4 L194.0,265.8 L194.5,265.1 L195.0,264.4 L195.5,263.7 L196.0,262.9 L196.5,262.2 L197.0,261.4 L197.5,260.7 L198.0,260.0 L198.5,259.3 L199.0,258.6 L199.5,257.8 L200.0,257.1 L200.5,256.4 L201.0,255.7 L201.5,254.9 L202.0,254.2 L202.5,253.6 L203.0,252.9 L203.5,252.3 L204.0,251.7 L204.5,251.1 L205.0,250.4 L205.5,249.8 L206.0,249.2 L206.5,248.7 L207.0,248.1 L207.5,247.6 L208.0,247.2 L208.5,246.8 L209.0,246.5 L209.5,246.2 L210.0,245.9 L210.5,245.7 L211.0,245.4 L211.5,245.2 L212.0,245.0 L212.5,244.8 L213.0,244.6 L213.5,244.5 L214.0,244.4 L214.5,244.4 L215.0,244.4 L215.5,244.5 L216.0,244.7 L216.5,244.8 L217.0,245.1 L217.5,245.4 L218.0,245.7 L218.5,246.0 L219.0,246.3 L219.5,246.7 L220.0,247.0 L220.5,247.4 L221.0,247.8 L221.5,248.3 L222.0,248.9 L222.5,249.5 L223.0,250.1 L223.5,250.7 L224.0,251.4 L224.5,252.0 L225.0,252.6 L225.5,253.2 L226.0,253.8 L226.5,254.5 L227.0,255.1 L227.5,255.7 L228.0,256.4 L228.5,257.1 L229.0,257.7 L229.5,258.4 L230.0,259.1 L230.5,259.7 L231.0,260.4 L231.5,261.1 L232.0,261.7 L232.5,262.3 L233.0,263.0 L233.5,263.6 L234.0,264.2 L234.5,264.7 L235.0,265.3 L235.5,265.8 L236.0,266.3 L236.5,266.8 L237.0,267.2 L237.5,267.7 L238.0,268.1 L238.5,268.5 L239.0,268.9 L239.5,269.3 L240.0,269.7 L240.5,270.1 L241.0,270.5 L241.5,270.9 L242.0,271.2 L242.5,271.6 L243.0,272.0 L243.5,272.3 L244.0,272.7 L244.5,273.1 L245.0,273.4 L245.5,273.8 L246.0,274.2 L246.5,274.5 L247.0,274.9 L247.5,275.2 L248.0,275.6 L248.5,276.0 L249.0,276.3 L249.5,276.7 L250.0,277.0 L250.5,277.4 L251.0,277.7 L251.5,278.0 L252.0,278.4 L252.5,278.7 L253.0,279.1 L253.5,279.4 L254.0,279.7 L254.5,280.0 L255.0,280.4 L255.5,280.7 L256.0,281.0 L256.5,281.3 L257.0,281.6 L257.5,281.9 L258.0,282.2 L258.5,282.6 L259.0,282.9 L259.5,283.2 L260.0,283.5 L260.5,283.8 L261.0,284.2 L261.5,284.5 L262.0,284.8 L262.5,285.1 L263.0,285.5 L263.5,285.8 L264.0,286.1 L264.5,286.4 L265.0,286.7 L265.5,287.0 L266.0,287.2 L266.5,287.5 L267.0,287.8 L267.5,288.0 L268.0,288.2 L268.5,288.4 L269.0,288.6 L269.5,288.8 L270.0,289.0 L270.5,289.1 L271.0,289.2 L271.5,289.4 L272.0,289.5 L272.5,289.6 L273.0,289.7 L273.5,289.9 L274.0,290.0 L274.5,290.1 L275.0,290.2 L275.5,290.3 L276.0,290.4 L276.5,290.5 L277.0,290.6 L277.5,290.7 L278.0,290.8 L278.5,290.9 L279.0,291.0 L279.5,291.0 L280.0,291.1 L280.5,291.1 L281.0,291.2 L281.5,291.2 L282.0,291.3 L282.5,291.3 L283.0,291.3 L283.5,291.3 L284.0,291.3 L284.5,291.3 L285.0,291.2 L285.5,291.2 L286.0,291.1 L286.5,291.0 L287.0,290.9 L287.5,290.8 L288.0,290.7 L288.5,290.5 L289.0,290.4 L289.5,290.2 L290.0,290.1 L290.5,289.9 L291.0,289.7 L291.5,289.6 L292.0,289.4 L292.5,289.2 L293.0,289.0 L293.5,288.8 L294.0,288.6 L294.5,288.4 L295.0,288.1 L295.5,287.8 L296.0,287.5 L296.5,287.2 L297.0,286.8 L297.5,286.4 L298.0,285.9 L298.5,285.5 L299.0,285.0 L299.5,284.5 L300.0,284.0 L300.5,283.4 L301.0,282.9 L301.5,282.3 L302.0,281.6 L302.5,280.9 L303.0,280.1 L303.5,279.3 L304.0,278.5 L304.5,277.6 L305.0,276.8 L305.5,275.9 L306.0,275.0 L306.5,274.1 L307.0,273.2 L307.5,272.3 L308.0,271.3 L308.5,270.3 L309.0,269.3 L309.5,268.2 L310.0,267.2 L310.5,266.0 L311.0,264.9 L311.5,263.7 L312.0,262.5 L312.5,261.2 L313.0,259.9 L313.5,258.5 L314.0,257.1 L314.5,255.7 L315.0,254.2 L315.5,252.6 L316.0,251.1 L316.5,249.5 L317.0,247.8 L317.5,246.1 L318.0,244.4 L318.5,242.6 L319.0,240.8 L319.5,238.9 L320.0,237.0 L320.5,235.0 L321.0,232.9 L321.5,230.7 L322.0,228.4 L322.5,226.0 L323.0,223.4 L323.5,220.7 L324.0,217.7 L324.5,214.5 L325.0,211.2 L325.5,207.9 L326.0,204.5 L326.5,201.2 L327.0,198.0 L327.5,194.9 L328.0,191.8 L328.5,188.8 L329.0,185.7 L329.5,182.6 L330.0,179.4 L330.5,176.1 L331.0,172.6 L331.5,168.8 L332.0,164.9 L332.5,161.0 L333.0,157.2 L333.5,153.6 L334.0,150.1 L334.5,146.7 L335.0,143.4 L335.5,140.5 L336.0,138.0 L336.5,135.8 L337.0,133.7 L337.5,131.6 L338.0,129.2 L338.5,126.8 L339.0,124.7 L339.5,123.0 L340.0,121.3 L340.5,119.9 L341.0,118.7 L341.5,117.9 L342.0,117.2 L342.5,116.7 L343.0,116.2 L343.5,115.9 L344.0,115.5 L344.5,115.3 L345.0,115.1 L345.5,114.9 L346.0,114.7 L346.5,114.6 L347.0,114.5 L347.5,114.4 L348.0,114.4 L348.5,114.4 L349.0,114.4 L349.5,114.3 L350.0,114.3 L350.5,114.3 L351.0,114.3 L351.5,114.3 L352.0,114.3 L352.5,114.3 L353.0,114.3 L353.5,114.3 L354.0,114.3 L354.5,114.3 L355.0,114.3 L355.5,114.3 L356.0,114.3 L356.5,114.3 L357.0,114.4 L357.5,114.4 L358.0,114.4 L358.5,114.4 L359.0,114.4 L359.5,114.5 L360.0,114.5 L360.5,114.5 L361.0,114.5 L361.5,114.5 L362.0,114.6 L362.5,114.6 L363.0,114.6 L363.5,114.7 L364.0,114.7 L364.5,114.7 L365.0,114.7 L365.5,114.8 L366.0,114.8 L366.5,114.8 L367.0,114.9 L367.5,114.9 L368.0,114.9 L368.5,115.0 L369.0,115.0 L369.5,115.1 L370.0,115.1 L370.5,115.1 L371.0,115.2 L371.5,115.2 L372.0,115.2 L372.5,115.3 L373.0,115.3 L373.5,115.3 L374.0,115.4 L374.5,115.4 L375.0,115.4 L375.5,115.5 L376.0,115.5 L376.5,115.5 L377.0,115.6 L377.5,115.6 L378.0,115.7 L378.5,115.7 L379.0,115.8 L379.5,115.9 L380.0,115.9 L380.5,116.0 L381.0,116.0 L381.5,116.1 L382.0,116.2 L382.5,116.2 L383.0,116.3 L383.5,116.3 L384.0,116.4 L384.5,116.4 L385.0,116.5 L385.5,116.5 L386.0,116.6 L386.5,116.6 L387.0,116.7 L387.5,116.7 L388.0,116.8 L388.5,116.8 L389.0,116.8 L389.5,116.8 L390.0,116.9 L390.5,116.9 L391.0,116.9 L391.5,116.9 L392.0,116.9 L392.5,116.9 L393.0,116.9 L393.5,116.8 L394.0,116.8 L394.5,116.7 L395.0,116.7 L395.5,116.6 L396.0,116.5 L396.5,116.4 L397.0,116.3 L397.5,116.2 L398.0,116.1 L398.5,116.0 L399.0,116.0 L399.5,115.9 L400.0,115.8 L400.5,115.7 L401.0,115.6 L401.5,115.5 L402.0,115.5 L402.5,115.4 L403.0,115.3 L403.5,115.3 L404.0,115.2 L404.5,115.2 L405.0,115.2 L405.5,115.1 L406.0,115.1 L406.5,115.0 L407.0,115.0 L407.5,115.0 L408.0,114.9 L408.5,114.9 L409.0,114.8 L409.5,114.8 L410.0,114.8 L410.5,114.7 L411.0,114.7 L411.5,114.6 L412.0,114.6 L412.5,114.5 L413.0,114.4 L413.5,114.4 L414.0,114.3 L414.5,114.2 L415.0,114.0 L415.5,113.9 L416.0,113.7 L416.5,113.5 L417.0,113.4 L417.5,113.2 L418.0,113.1 L418.5,113.0 L419.0,112.9 L419.5,112.9 L420.0,113.0 L420.5,113.8 L421.0,115.1 L421.5,116.9 L422.0,119.3 L422.5,125.4 L423.0,133.0 L423.5,139.9 L424.0,147.3 L424.5,154.8 L425.0,162.5 L425.5,171.8 L426.0,186.5 L426.5,206.8 L427.0,223.1 L427.5,231.0 L428.0,237.1 L428.5,242.1 L429.0,246.3 L429.5,250.1 L430.0,253.7 L430.5,257.2 L431.0,260.2 L431.5,262.9 L432.0,265.5 L432.5,268.0 L433.0,270.3 L433.5,272.3 L434.0,274.0 L434.5,275.2 L435.0,276.1 L435.5,277.0 L436.0,277.7 L436.5,278.5 L437.0,279.4 L437.5,280.2 L438.0,281.0 L438.5,281.8 L439.0,282.6 L439.5,283.3 L440.0,284.0 L440.5,284.7 L441.0,285.4 L441.5,286.1 L442.0,286.7 L442.5,287.3 L443.0,287.9 L443.5,288.4 L444.0,288.8 L444.5,289.1 L445.0,289.5 L445.5,289.8 L446.0,290.1 L446.5,290.3 L447.0,290.6 L447.5,290.8 L448.0,291.0 L448.5,291.2 L449.0,291.4 L449.5,291.6 L450.0,291.7 L450.5,291.9 L451.0,292.1 L451.5,292.2 L452.0,292.3 L452.5,292.4 L453.0,292.5 L453.5,292.5 L454.0,292.5 L454.5,292.5 L455.0,292.6 L455.5,292.6 L456.0,292.6 L456.5,292.6 L457.0,292.6 L457.5,292.6 L458.0,292.7 L458.5,292.7 L459.0,292.7 L459.5,292.7 L460.0,292.7 L460.5,292.7 L461.0,292.7 L461.5,292.7 L462.0,292.7" fill="none" stroke="#111" stroke-width="2.15" stroke-linejoin="round" stroke-linecap="round"/>
<path d="M244.4,273 V261.6" stroke="#111" stroke-width="1.8" fill="none"/>

<!-- zoom box and connectors -->
<g stroke="#1a1a1a" stroke-width="1.45" fill="none">
<rect x="231.1" y="254.8" width="28.5" height="31.5"/>
<path d="M197.4,167.4 L231.1,254.8 M309.4,167.4 L259.6,254.8"/>
</g>

<!-- ============ Inset B ============ -->
<g stroke="#1a1a1a" stroke-width="1.45" fill="none">
<rect x="195.6" y="59.6" width="115.2" height="88.4"/>
<path d="M195.6,59.6 V56.3 M253.4,59.6 V56.3 M310.8,59.6 V56.3"/>
<path d="M195.6,148 V152.2 M253.4,148 V152.2 M310.8,148 V152.2"/>
<path d="M191.6,64.2 H195.6 M191.6,102.5 H195.6 M191.6,140.7 H195.6"/>
<path d="M310.8,64.2 H315.2 M310.8,102.5 H315.2 M310.8,140.7 H315.2"/>
</g>
<path d="M208.0,139.9 L208.5,139.7 L209.0,139.6 L209.5,139.4 L210.0,139.3 L210.5,139.1 L211.0,139.0 L211.5,138.8 L212.0,138.7 L212.5,138.5 L213.0,138.4 L213.5,138.2 L214.0,138.0 L214.5,137.9 L215.0,137.7 L215.5,137.6 L216.0,137.4 L216.5,137.2 L217.0,137.1 L217.5,136.9 L218.0,136.8 L218.5,136.6 L219.0,136.4 L219.5,136.3 L220.0,136.1 L220.5,135.9 L221.0,135.7 L221.5,135.5 L222.0,135.4 L222.5,135.2 L223.0,135.0 L223.5,134.8 L224.0,134.5 L224.5,134.3 L225.0,134.1 L225.5,133.9 L226.0,133.6 L226.5,133.3 L227.0,133.1 L227.5,132.7 L228.0,132.4 L228.5,132.1 L229.0,131.7 L229.5,131.3 L230.0,130.9 L230.5,130.6 L231.0,130.2 L231.5,129.8 L232.0,129.3 L232.5,128.8 L233.0,128.3 L233.5,127.7 L234.0,127.1 L234.5,126.4 L235.0,125.6 L235.5,124.8 L236.0,124.0 L236.5,123.0 L237.0,122.1 L237.5,121.0 L238.0,119.9 L238.5,118.5 L239.0,116.9 L239.5,114.9 L240.0,112.7 L240.0,115.9 L239.5,118.3 L239.0,120.3 L238.5,122.0 L238.0,123.5 L237.5,124.8 L237.0,125.9 L236.5,127.0 L236.0,128.0 L235.5,129.0 L235.0,129.9 L234.5,130.7 L234.0,131.5 L233.5,132.2 L233.0,132.9 L232.5,133.5 L232.0,134.1 L231.5,134.7 L231.0,135.2 L230.5,135.7 L230.0,136.1 L229.5,136.4 L229.0,136.7 L228.5,137.0 L228.0,137.2 L227.5,137.5 L227.0,137.7 L226.5,137.9 L226.0,138.0 L225.5,138.2 L225.0,138.3 L224.5,138.5 L224.0,138.6 L223.5,138.7 L223.0,138.8 L222.5,138.9 L222.0,139.0 L221.5,139.1 L221.0,139.1 L220.5,139.2 L220.0,139.3 L219.5,139.3 L219.0,139.4 L218.5,139.5 L218.0,139.5 L217.5,139.6 L217.0,139.6 L216.5,139.7 L216.0,139.7 L215.5,139.8 L215.0,139.8 L214.5,139.8 L214.0,139.9 L213.5,139.9 L213.0,139.9 L212.5,140.0 L212.0,140.0 L211.5,140.0 L211.0,140.0 L210.5,140.0 L210.0,140.0 L209.5,140.0 L209.0,140.0 L208.5,140.0 L208.0,139.9Z" fill="#1a1a1a"/>
<path d="M253.0,117.3 L253.5,119.0 L254.0,120.5 L254.5,121.7 L255.0,122.8 L255.5,123.8 L256.0,124.6 L256.5,125.4 L257.0,126.2 L257.5,126.8 L258.0,127.4 L258.5,127.9 L259.0,128.4 L259.5,128.8 L260.0,129.2 L260.5,129.6 L261.0,129.9 L261.5,130.2 L262.0,130.4 L262.5,130.6 L263.0,130.8 L263.5,131.1 L264.0,131.3 L264.5,131.5 L265.0,131.7 L265.5,131.9 L266.0,132.1 L266.5,132.3 L267.0,132.4 L267.5,132.6 L268.0,132.7 L268.5,132.9 L269.0,133.1 L269.5,133.2 L270.0,133.3 L270.5,133.4 L271.0,133.4 L271.5,133.4 L272.0,133.5 L272.5,133.5 L273.0,133.5 L273.5,133.5 L274.0,133.5 L274.5,133.5 L275.0,133.5 L275.5,133.5 L276.0,133.5 L276.5,133.5 L277.0,133.5 L277.5,133.5 L278.0,133.5 L278.5,133.5 L279.0,133.5 L279.5,133.4 L280.0,133.4 L280.5,133.4 L281.0,133.4 L281.5,133.4 L282.0,133.4 L282.5,133.4 L283.0,133.4 L283.5,133.4 L284.0,133.4 L284.5,133.5 L285.0,133.5 L285.5,133.6 L286.0,133.7 L286.0,133.7 L285.5,133.9 L285.0,134.1 L284.5,134.3 L284.0,134.4 L283.5,134.6 L283.0,134.8 L282.5,134.9 L282.0,135.1 L281.5,135.3 L281.0,135.5 L280.5,135.6 L280.0,135.8 L279.5,136.0 L279.0,136.1 L278.5,136.3 L278.0,136.5 L277.5,136.6 L277.0,136.8 L276.5,136.9 L276.0,137.1 L275.5,137.2 L275.0,137.4 L274.5,137.5 L274.0,137.7 L273.5,137.8 L273.0,137.9 L272.5,138.1 L272.0,138.2 L271.5,138.3 L271.0,138.4 L270.5,138.5 L270.0,138.5 L269.5,138.5 L269.0,138.5 L268.5,138.5 L268.0,138.5 L267.5,138.4 L267.0,138.4 L266.5,138.2 L266.0,137.9 L265.5,137.6 L265.0,137.2 L264.5,136.9 L264.0,136.5 L263.5,136.2 L263.0,135.8 L262.5,135.5 L262.0,135.1 L261.5,134.7 L261.0,134.3 L260.5,133.9 L260.0,133.4 L259.5,132.8 L259.0,132.3 L258.5,131.6 L258.0,131.0 L257.5,130.2 L257.0,129.5 L256.5,128.6 L256.0,127.6 L255.5,126.6 L255.0,125.5 L254.5,124.3 L254.0,122.9 L253.5,121.3 L253.0,119.3Z" fill="#1a1a1a"/>
<path d="M195.6,142.3 L196.0,142.2 L196.4,142.1 L196.8,142.1 L197.2,142.0 L197.6,141.9 L198.0,141.8 L198.4,141.8 L198.8,141.7 L199.2,141.6 L199.6,141.5 L200.0,141.5 L200.4,141.4 L200.8,141.3 L201.2,141.2 L201.6,141.2 L202.0,141.1 L202.4,141.0 L202.8,140.9 L203.2,140.8 L203.6,140.8 L204.0,140.7 L204.4,140.6 L204.8,140.5 L205.2,140.5 L205.6,140.4 L206.0,140.3 L206.4,140.2 L206.8,140.2 L207.2,140.1 L207.6,140.0 L208.0,139.9 L208.4,139.9 L208.8,139.8 L209.2,139.7 L209.6,139.6 L210.0,139.6 L210.4,139.5 L210.8,139.4 L211.2,139.3 L211.6,139.3 L212.0,139.2 L212.4,139.1 L212.8,139.0 L213.2,138.9 L213.6,138.9 L214.0,138.8 L214.4,138.7 L214.8,138.6 L215.2,138.5 L215.6,138.4 L216.0,138.3 L216.4,138.2 L216.8,138.1 L217.2,138.0 L217.6,138.0 L218.0,137.9 L218.4,137.8 L218.8,137.7 L219.2,137.6 L219.6,137.5 L220.0,137.4 L220.4,137.3 L220.8,137.1 L221.2,137.0 L221.6,136.9 L222.0,136.8 L222.4,136.7 L222.8,136.6 L223.2,136.4 L223.6,136.3 L224.0,136.2 L224.4,136.0 L224.8,135.9 L225.2,135.7 L225.6,135.6 L226.0,135.4 L226.4,135.2 L226.8,135.0 L227.2,134.8 L227.6,134.6 L228.0,134.3 L228.4,134.1 L228.8,133.8 L229.2,133.6 L229.6,133.3 L230.0,133.0 L230.4,132.7 L230.8,132.4 L231.2,132.0 L231.6,131.6 L232.0,131.2 L232.4,130.8 L232.8,130.3 L233.2,129.9 L233.6,129.4 L234.0,128.8 L234.4,128.3 L234.8,127.6 L235.2,127.0 L235.6,126.3 L236.0,125.6 L236.4,124.8 L236.8,124.0 L237.2,123.2 L237.6,122.3 L238.0,121.3 L238.4,120.2 L238.8,119.0 L239.2,117.5 L239.6,115.8 L240.0,114.0 L240.4,112.0 L240.8,109.8 L241.2,107.5 L241.6,104.9 L242.0,101.9 L242.4,98.6 L242.8,94.9 L243.2,90.7 L243.6,86.8 L244.0,83.5 L244.4,80.5 L244.8,78.0 L245.2,75.5 L245.6,73.6 L246.0,73.6 L246.4,75.7 L246.8,78.0 L247.2,79.8 L247.6,81.5 L248.0,83.4 L248.4,85.5 L248.8,88.4 L249.2,92.6 L249.6,96.9 L250.0,100.3 L250.4,103.4 L250.8,106.2 L251.2,108.7 L251.6,111.0 L252.0,113.3 L252.4,115.4 L252.8,117.3 L253.2,118.9 L253.6,120.3 L254.0,121.4 L254.4,122.5 L254.8,123.4 L255.2,124.3 L255.6,125.1 L256.0,125.8 L256.4,126.5 L256.8,127.2 L257.2,127.8 L257.6,128.3 L258.0,128.8 L258.4,129.3 L258.8,129.7 L259.2,130.1 L259.6,130.5 L260.0,130.9 L260.4,131.2 L260.8,131.5 L261.2,131.8 L261.6,132.0 L262.0,132.3 L262.4,132.5 L262.8,132.7 L263.2,132.9 L263.6,133.1 L264.0,133.4 L264.4,133.6 L264.8,133.8 L265.2,134.0 L265.6,134.2 L266.0,134.4 L266.4,134.6 L266.8,134.7 L267.2,134.8 L267.6,134.9 L268.0,135.0 L268.4,135.1 L268.8,135.2 L269.2,135.3 L269.6,135.3 L270.0,135.4 L270.4,135.4 L270.8,135.4 L271.2,135.4 L271.6,135.4 L272.0,135.4 L272.4,135.3 L272.8,135.3 L273.2,135.3 L273.6,135.2 L274.0,135.2 L274.4,135.1 L274.8,135.1 L275.2,135.0 L275.6,135.0 L276.0,134.9 L276.4,134.9 L276.8,134.8 L277.2,134.8 L277.6,134.7 L278.0,134.7 L278.4,134.6 L278.8,134.6 L279.2,134.5 L279.6,134.4 L280.0,134.4 L280.4,134.3 L280.8,134.2 L281.2,134.2 L281.6,134.1 L282.0,134.1 L282.4,134.0 L282.8,134.0 L283.2,133.9 L283.6,133.9 L284.0,133.8 L284.4,133.8 L284.8,133.8 L285.2,133.7 L285.6,133.7 L286.0,133.7 L286.4,133.7 L286.8,133.6 L287.2,133.6 L287.6,133.6 L288.0,133.6 L288.4,133.5 L288.8,133.5 L289.2,133.5 L289.6,133.5 L290.0,133.5 L290.4,133.4 L290.8,133.4 L291.2,133.4 L291.6,133.4 L292.0,133.4 L292.4,133.3 L292.8,133.3 L293.2,133.3 L293.6,133.3 L294.0,133.3 L294.4,133.3 L294.8,133.2 L295.2,133.2 L295.6,133.2 L296.0,133.2 L296.4,133.2 L296.8,133.2 L297.2,133.1 L297.6,133.1 L298.0,133.1 L298.4,133.1 L298.8,133.1 L299.2,133.0 L299.6,133.0 L300.0,133.0 L300.4,133.0 L300.8,133.0 L301.2,132.9 L301.6,132.9 L302.0,132.9 L302.4,132.9 L302.8,132.9 L303.2,132.8 L303.6,132.8 L304.0,132.8 L304.4,132.8 L304.8,132.8 L305.2,132.8 L305.6,132.7 L306.0,132.7 L306.4,132.7 L306.8,132.7 L307.2,132.7 L307.6,132.6 L308.0,132.6 L308.4,132.6 L308.8,132.6 L309.2,132.6 L309.6,132.5 L310.0,132.5 L310.4,132.5" fill="none" stroke="#1a1a1a" stroke-width="2.4" stroke-linejoin="round"/>
<g fill="#1a1a1a" font-size="10.4">
<text x="189.3" y="67.2" text-anchor="end">0.1</text>
<text x="190" y="106.1" text-anchor="end">0.05</text>
<text x="190.8" y="144.3" text-anchor="end">0</text>
<text x="197.5" y="165" text-anchor="middle" font-size="11">2300</text>
<text x="252.9" y="165" text-anchor="middle" font-size="11">2350</text>
<text x="311.7" y="165" text-anchor="middle" font-size="11">2400</text>
</g>
<text x="203.6" y="88.6" font-size="28" class="b" fill="#1c1c1c" textLength="35.6" lengthAdjust="spacingAndGlyphs">(B)</text>
</svg>
</body></html>
